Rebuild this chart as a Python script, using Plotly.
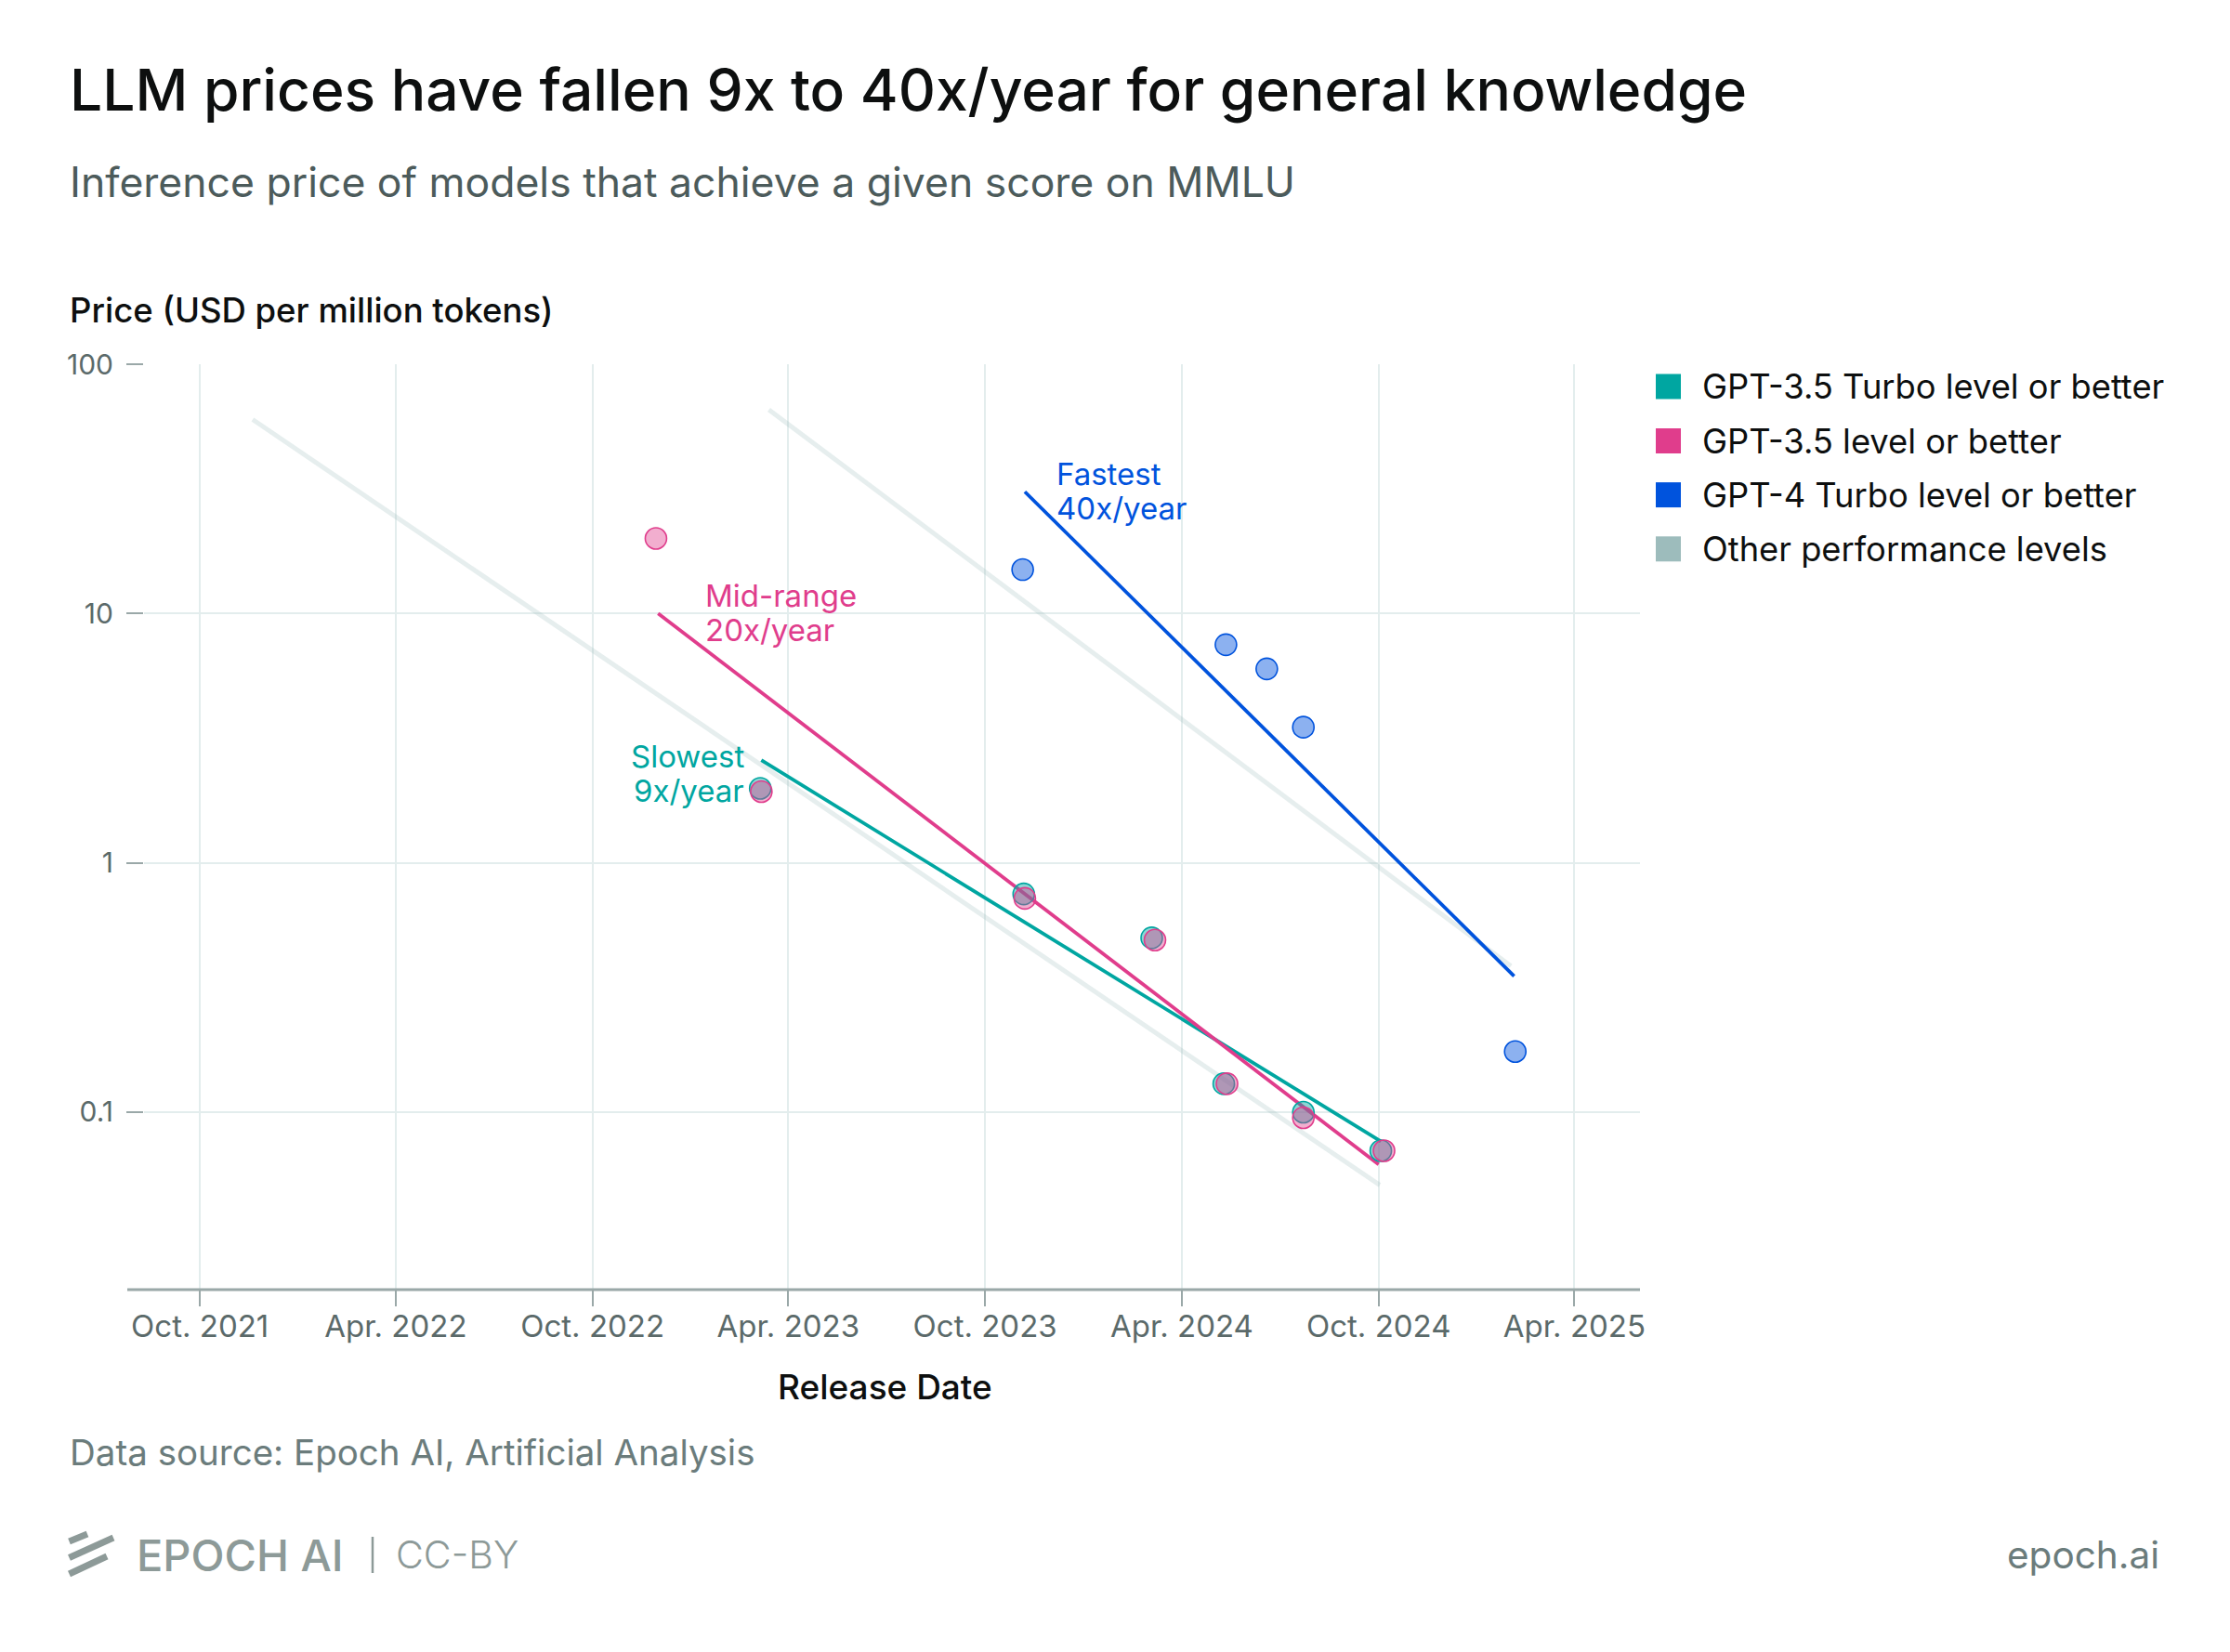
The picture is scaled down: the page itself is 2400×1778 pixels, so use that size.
import plotly.graph_objects as go

# ---------------- data ----------------
series_names = ["GPT-3.5 Turbo level or better", "GPT-3.5 level or better",
                "GPT-4 Turbo level or better", "Other performance levels"]
series_colors = ["#00a6a1", "#e03d8c", "#0053dd", "#9dbcbc"]
series_fills = ["rgba(0,166,161,0.45)", "rgba(224,61,140,0.42)", "rgba(0,83,221,0.45)"]

teal_dates = ["2023-03-06", "2023-11-06", "2024-03-04", "2024-05-10", "2024-07-23", "2024-10-03"]
teal_prices = [1.99, 0.75, 0.50, 0.13, 0.100, 0.070]

pink_dates = ["2022-11-29", "2023-03-07", "2023-11-07", "2024-03-07", "2024-05-13", "2024-07-23", "2024-10-06"]
pink_prices = [20.0, 1.93, 0.72, 0.49, 0.13, 0.095, 0.070]

blue_dates = ["2023-11-05", "2024-05-12", "2024-06-19", "2024-07-23", "2025-02-05"]
blue_prices = [15.0, 7.5, 6.0, 3.5, 0.175]

teal_trend_dates = ["2023-03-07", "2024-10-03"]
teal_trend_prices = [2.58, 0.0764]
pink_trend_dates = ["2022-12-01", "2024-10-01"]
pink_trend_prices = [10.0, 0.0617]
blue_trend_dates = ["2023-11-07", "2025-02-04"]
blue_trend_prices = [30.8, 0.351]
other_trends = [
    (["2021-11-19", "2024-10-02"], [60.0, 0.051]),
    (["2023-03-14", "2025-02-01"], [65.7, 0.385]),
]

y_tickvals = [0.1, 1, 10, 100]
y_ticktext = ["0.1", "1", "10", "100"]

trend_labels = [
    # (date, log10 price, text, anchor, color index)
    ("2023-12-05", 1.561, "Fastest", "left", 2),
    ("2023-12-05", 1.424, "40x/year", "left", 2),
    ("2023-01-12", 1.071, "Mid-range", "left", 1),
    ("2023-01-12", 0.934, "20x/year", "left", 1),
    ("2023-02-21", 0.427, "Slowest", "right", 0),
    ("2023-02-21", 0.289, "9x/year", "right", 0),
]

FONT = "Inter"
W, H = 2400, 1778
L, R, T, B = 155, 1765, 392, 1388


def px(x):
    return (x - L) / (R - L)


def py(y):
    return (B - y) / (B - T)


fig = go.Figure()

# other performance trend lines
for d, p in other_trends:
    fig.add_trace(go.Scatter(x=d, y=p, mode="lines",
                             line=dict(color="rgba(157,188,188,0.25)", width=5),
                             showlegend=False, hoverinfo="skip"))

# coloured trend lines
for d, p, c in [(teal_trend_dates, teal_trend_prices, series_colors[0]),
                (pink_trend_dates, pink_trend_prices, series_colors[1]),
                (blue_trend_dates, blue_trend_prices, series_colors[2])]:
    fig.add_trace(go.Scatter(x=d, y=p, mode="lines", line=dict(color=c, width=3.8),
                             showlegend=False, hoverinfo="skip"))

# points
for d, p, i in [(teal_dates, teal_prices, 0), (pink_dates, pink_prices, 1),
                (blue_dates, blue_prices, 2)]:
    fig.add_trace(go.Scatter(x=d, y=p, mode="markers", name=series_names[i],
                             marker=dict(size=23, color=series_fills[i],
                                         line=dict(color=series_colors[i], width=1.6)),
                             showlegend=False))

annotations = []
for d, ly, txt, anc, ci in trend_labels:
    annotations.append(dict(x=d, y=ly, xref="x", yref="y", text=txt, showarrow=False,
                            xanchor=anc, yanchor="middle",
                            font=dict(family=FONT, size=33, color=series_colors[ci])))

# titles and footer
annotations += [
    dict(x=px(73), y=py(96), text="LLM prices have fallen 9x to 40x/year for general knowledge",
         font=dict(family=FONT, size=62.3, color="#0d0f0f", weight=500)),
    dict(x=px(73), y=py(196), text="Inference price of models that achieve a given score on MMLU",
         font=dict(family=FONT, size=44.5, color="#4c5b5b")),
    dict(x=px(73), y=py(334), text="Price (USD per million tokens)",
         font=dict(family=FONT, size=36.5, color="#0d0f0f", weight=500)),
    dict(x=px(952), y=py(1492), text="Release Date", xanchor="center",
         font=dict(family=FONT, size=37, color="#0d0f0f", weight=500)),
    dict(x=px(73), y=py(1563), text="Data source: Epoch AI, Artificial Analysis",
         font=dict(family=FONT, size=38.5, color="#6b7c7c")),
    dict(x=px(145), y=py(1673), text="EPOCH AI",
         font=dict(family=FONT, size=47, color="#8d9a98", weight=500)),
    dict(x=px(424), y=py(1673), text="CC-BY",
         font=dict(family=FONT, size=41, color="#8d9a98", weight=300)),
    dict(x=px(2326), y=py(1673), text="epoch.ai", xanchor="right",
         font=dict(family=FONT, size=40.5, color="#6b7c7c")),
]
for a in annotations[len(trend_labels):]:
    a.update(xref="paper", yref="paper", showarrow=False, yanchor="middle")
    a.setdefault("xanchor", "left")

# legend (manual, large squares)
legend_rows = [416, 474.5, 532.6, 590.8]
shapes = []
for name, col, ry in zip(series_names, series_colors, legend_rows):
    shapes.append(dict(type="rect", xref="paper", yref="paper",
                       x0=px(1782), x1=px(1809), y0=py(ry + 13.5), y1=py(ry - 13.5),
                       fillcolor=col, line=dict(width=0)))
    annotations.append(dict(x=px(1830), y=py(ry), xref="paper", yref="paper", text=name,
                            showarrow=False, xanchor="left", yanchor="middle",
                            font=dict(family=FONT, size=36.3, color="#0d0f0f")))

# x axis baseline extending under the y ticks
shapes.append(dict(type="line", xref="paper", yref="paper", x0=px(137), x1=1, y0=0, y1=0,
                   line=dict(color="#9aa8a8", width=3)))
# separator bar in footer
shapes.append(dict(type="line", xref="paper", yref="paper", x0=px(401), x1=px(401),
                   y0=py(1654), y1=py(1693), line=dict(color="#8d9a98", width=2.5)))
# logo strokes
for (x0, y0, x1, y1) in [(74.5, 1659, 94, 1651), (74.5, 1676.5, 122, 1655), (74.5, 1694, 115, 1675)]:
    shapes.append(dict(type="line", xref="paper", yref="paper", x0=px(x0), y0=py(y0),
                       x1=px(x1), y1=py(y1), line=dict(color="#8d9a98", width=7)))

fig.update_layout(
    width=W, height=H,
    margin=dict(l=L, r=W - R, t=T, b=H - B, pad=0),
    paper_bgcolor="white", plot_bgcolor="white",
    showlegend=False,
    font=dict(family=FONT),
    annotations=annotations, shapes=shapes,
)
fig.update_xaxes(type="date", range=["2021-08-10", "2025-06-01"],
                 tick0="2021-10-01", dtick="M6", tickformat="%b. %Y",
                 showgrid=True, gridcolor="#e3eded", gridwidth=2,
                 ticks="outside", ticklen=17, tickwidth=2, tickcolor="#9aa8a8",
                 showline=False, zeroline=False, ticklabelstandoff=-7,
                 tickfont=dict(family=FONT, size=33, color="#5b6a6a"))
fig.update_yaxes(type="log", range=[-1.712, 2],
                 tickvals=y_tickvals, ticktext=y_ticktext,
                 showgrid=True, gridcolor="#e3eded", gridwidth=2,
                 ticks="outside", ticklen=18, tickwidth=2, tickcolor="#9aa8a8",
                 showline=False, zeroline=False, ticklabelstandoff=8,
                 tickfont=dict(family=FONT, size=30, color="#5b6a6a"))

fig.write_html("out.html")
